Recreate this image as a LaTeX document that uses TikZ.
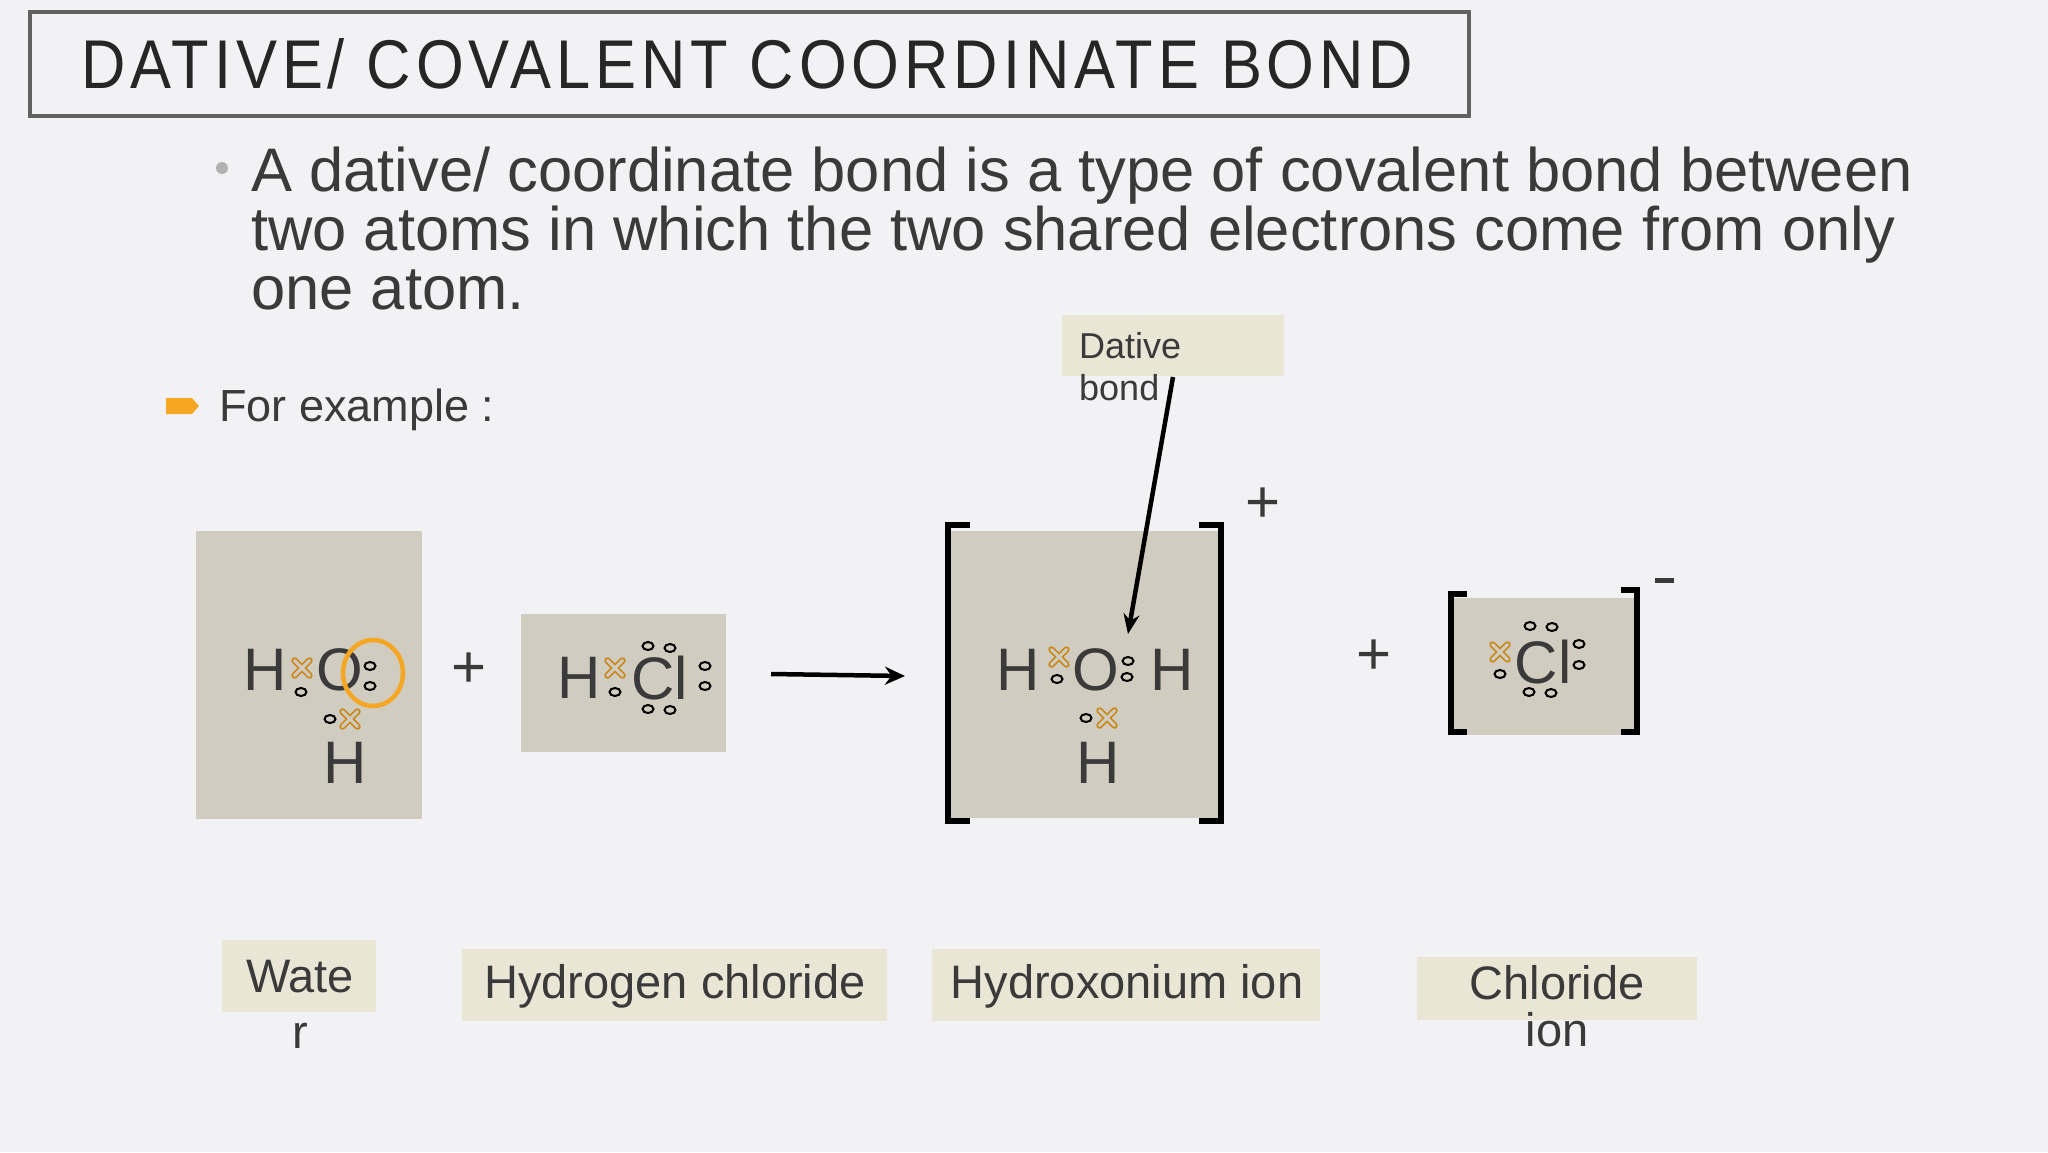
\documentclass[tikz,border=0pt]{standalone}
\usepackage{fontspec}
\usepackage{graphicx}
\setmainfont{Liberation Sans}
\usetikzlibrary{shapes.geometric,arrows.meta}
\definecolor{bg}{HTML}{F2F2F4}
\definecolor{boxc}{HTML}{D0CCC0}
\definecolor{lab}{HTML}{EAE6D6}
\definecolor{txt}{HTML}{3A3A3A}
\definecolor{orng}{HTML}{F5A623}
\definecolor{crs}{HTML}{C8891E}
\tikzset{
 atom/.style={font=\fontsize{60}{60}\selectfont, text=txt, inner sep=0},
 el/.style={draw=black, line width=2pt, ellipse, inner sep=0, minimum width=11pt, minimum height=8pt},
 molbox/.style={fill=boxc, draw=none},
 labbox/.style={fill=lab, draw=none},
 labtxt/.style={font=\fontsize{47}{47}\selectfont, text=txt, inner sep=0},
 brk/.style={line width=5.5pt, black},
 bodytxt/.style={anchor=base west, inner sep=0, text=txt, font=\fontsize{61.5}{61.5}\selectfont},
}
\newcommand{\xcross}[2]{%
 \draw[crs, line width=6.5pt, line cap=round] (#1-7.5,#2-7.5) -- (#1+7.5,#2+7.5) (#1-7.5,#2+7.5) -- (#1+7.5,#2-7.5);
 \draw[boxc, line width=3pt, line cap=round] (#1-7.5,#2-7.5) -- (#1+7.5,#2+7.5) (#1-7.5,#2+7.5) -- (#1+7.5,#2-7.5);}
\begin{document}
\begin{tikzpicture}[x=1pt,y=-1pt]
\fill[bg] (0,0) rectangle (2048,1152);
\useasboundingbox (0,0) rectangle (2048,1152);
% title
\draw[line width=3.5pt, color=txt!80] (30,12) rectangle (1469,116);
\node[anchor=west, inner sep=0, text=black!85] (title) at (81,64) {\resizebox{1332pt}{50pt}{\fontsize{72}{72}\selectfont\addfontfeatures{LetterSpace=8} DATIVE/ COVALENT COORDINATE BOND}};
% bullet
\fill[gray!60] (222,168) circle (6);
\node[bodytxt] (l1) at (251,191) {A dative/ coordinate bond is a type of covalent bond between};
\node[bodytxt] (l2) at (251,250) {two atoms in which the two shared electrons come from only};
\node[bodytxt] (l3) at (251,309) {one atom.};
\fill[orng] (166,398) -- (192,398) -- (199,406) -- (192,414) -- (166,414) -- cycle;
\node[anchor=base west, inner sep=0, text=txt, font=\fontsize{45}{45}\selectfont] (ex) at (219,421) {For example :};
% dative label
\fill[labbox] (1062,315) rectangle (1284,376);
\node[anchor=base west, inner sep=0, text=txt, font=\fontsize{36}{36}\selectfont] (dat) at (1079,358) {Dative};
\node[anchor=base west, inner sep=0, text=txt, font=\fontsize{36}{36}\selectfont] (bnd) at (1079,400) {bond};
% water
\fill[molbox] (196,531) rectangle (422,819);
\node[atom] (wh1) at (265,670) {H};
\node[atom] (wo) at (340,670) {O};
\node[atom] (wh2) at (345,763) {H};
\xcross{302}{668}
\node[el] (we1) at (301,692) {};
\node[el] (we2) at (370,666) {};
\node[el] (we3) at (370,686) {};
\node[el] (we4) at (330,719) {};
\xcross{350}{719}
\node[draw=orng, line width=4.5pt, ellipse, minimum width=60pt, minimum height=66pt, inner sep=0] (circ) at (373,673) {};
\node[atom] (p1) at (469,670) {+};
% HCl
\fill[molbox] (521,614) rectangle (726,752);
\node[atom] (hh) at (579,678) {H};
\node[atom] (hcl) at (660,678) {Cl};
\xcross{615}{668}
\node[el] (he1) at (615,692) {};
\node[el] (he2) at (648,646) {};
\node[el] (he3) at (670,648) {};
\node[el] (he4) at (648,709) {};
\node[el] (he5) at (670,710) {};
\node[el] (he6) at (705,666) {};
\node[el] (he7) at (705,686) {};
% reaction arrow
\coordinate (a1) at (771,674);
\coordinate (a2) at (905,676);
\draw[line width=4.5pt, -{Stealth[length=20pt,width=18pt]}] (a1) -- (a2);
% hydroxonium
\fill[molbox] (951,531) rectangle (1218,818);
\draw[brk] (970,525) -- (948,525) -- (948,821) -- (970,821);
\draw[brk] (1199,525) -- (1221,525) -- (1221,821) -- (1199,821);
\node[atom] (xh1) at (1018,670) {H};
\node[atom] (xo) at (1096,670) {O};
\node[atom] (xh2) at (1172,670) {H};
\node[atom] (xh3) at (1098,763) {H};
\xcross{1059}{657}
\node[el] (xe1) at (1057,679) {};
\node[el] (xe2) at (1128,661) {};
\node[el] (xe3) at (1127,677) {};
\node[el] (xe4) at (1086,718) {};
\xcross{1107}{718}
\node[atom] (sp) at (1263,505) {+};
\coordinate (dtail) at (1173,377);
\coordinate (dtip) at (1128,634);
\draw[line width=4.5pt, -{Stealth[length=20pt,width=16pt]}] (dtail) -- (dtip);
\node[atom] (p2) at (1374,657) {+};
% chloride
\fill[molbox] (1454,598) rectangle (1634,735);
\draw[brk] (1467,594) -- (1451,594) -- (1451,732) -- (1467,732);
\draw[brk] (1621,590) -- (1637,590) -- (1637,732) -- (1621,732);
\node[atom] (ccl) at (1543,662) {Cl};
\xcross{1500}{652}
\node[el] (ce1) at (1500,674) {};
\node[el] (ce2) at (1530,626) {};
\node[el] (ce3) at (1552,627) {};
\node[el] (ce4) at (1529,692) {};
\node[el] (ce5) at (1551,693) {};
\node[el] (ce6) at (1579,644) {};
\node[el] (ce7) at (1579,665) {};
\fill[txt] (1655,578) rectangle (1674,583);
% labels
\fill[labbox] (222,940) rectangle (376,1012);
\node[labtxt] (lw1) at (300,977) {Wate};
\node[labtxt] (lw2) at (300,1036) {r};
\fill[labbox] (462,949) rectangle (887,1021);
\node[labtxt] (lh) at (675,986) {Hydrogen chloride};
\fill[labbox] (932,949) rectangle (1320,1021);
\node[labtxt] (lx) at (1127,986) {Hydroxonium ion};
\fill[labbox] (1417,957) rectangle (1697,1020);
\node[labtxt] (lc1) at (1557,983) {Chloride};
\node[labtxt] (lc2) at (1557,1030) {ion};
\end{tikzpicture}
\end{document}
